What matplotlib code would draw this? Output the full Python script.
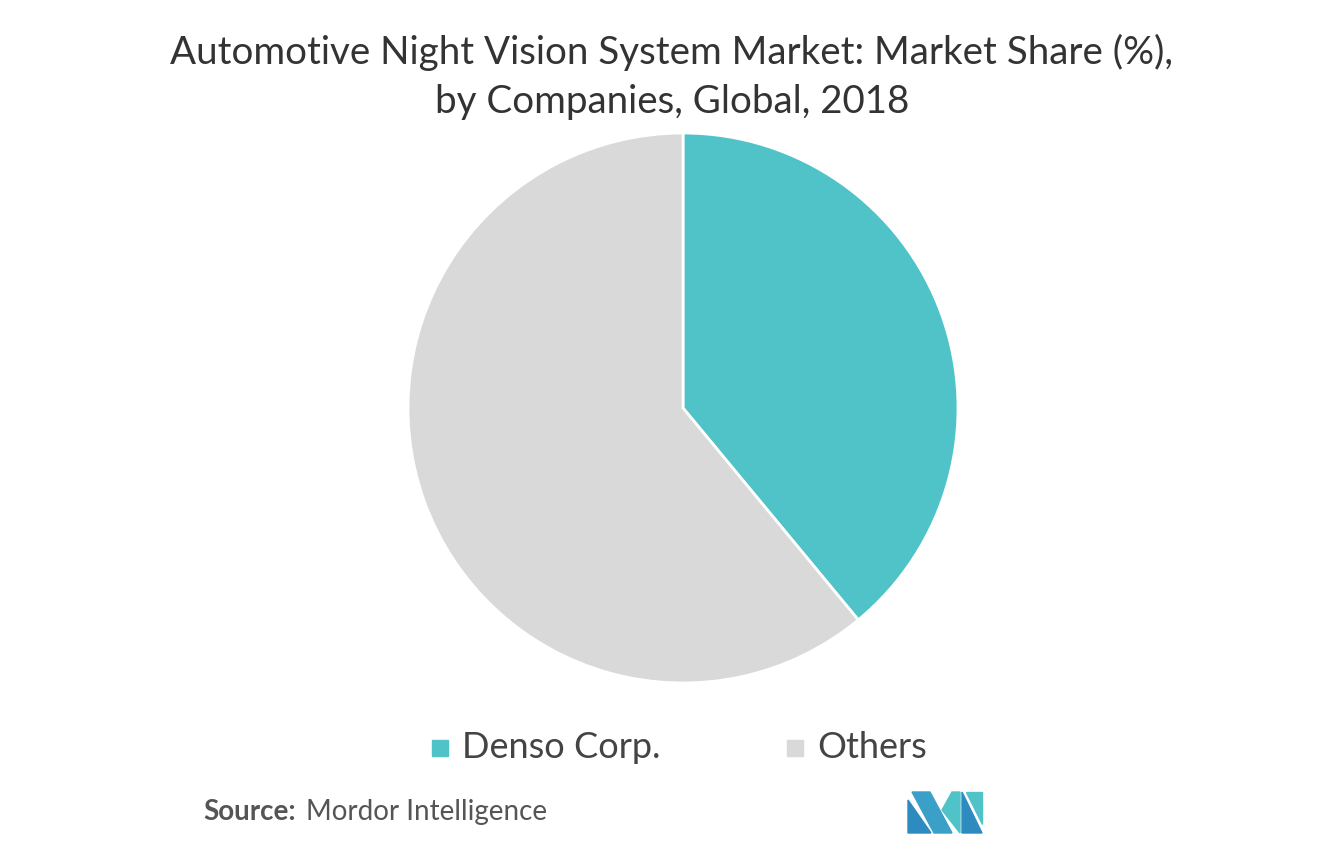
import matplotlib
matplotlib.use("Agg")
import matplotlib.pyplot as plt
from matplotlib.patches import Polygon, Rectangle

companies = ["Denso Corp.", "Others"]
shares = [39, 61]
colors = ["#50C3C8", "#D9D9D9"]

plt.rcParams['font.family'] = ['Lato', 'DejaVu Sans']

W, H = 1321, 848
fig = plt.figure(figsize=(W / 100, H / 100), dpi=100)
fig.patch.set_facecolor("white")

def fx(x):
    return x / W

def fy(y):
    return 1 - y / H

# pie
ax = fig.add_axes([fx(408), fy(683), 550 / W, 550 / H])
ax.pie(shares, colors=colors, startangle=90, counterclock=False,
       wedgeprops=dict(edgecolor="white", linewidth=2))
ax.set_xlim(-1, 1)
ax.set_ylim(-1, 1)
ax.set_aspect("equal")

fig.text(fx(672), fy(52), "Automotive Night Vision System Market: Market Share (%),",
         ha="center", va="center", fontsize=27.7, color="#333333")
fig.text(fx(672), fy(102), "by Companies, Global, 2018",
         ha="center", va="center", fontsize=27.7, color="#333333")

# legend
for x, name, c in [(440, companies[0], colors[0]), (795, companies[1], colors[1])]:
    fig.patches.append(Rectangle((fx(x - 8), fy(756)), 16 / W, 16 / H,
                                 transform=fig.transFigure, color=c))
    fig.text(fx(x + 22), fy(748), name, ha="left", va="center",
             fontsize=26, color="#444444")

# source
fig.text(fx(203), fy(812), "Source:", ha="left", va="center",
         fontsize=20, color="#555555", fontweight="bold")
fig.text(fx(306), fy(812), "Mordor Intelligence", ha="left", va="center",
         fontsize=20, color="#555555")

# logo
logo = [
    ([(908, 833), (908, 800), (931, 833)], "#2E8BC0"),
    ([(912, 792), (930, 792), (952, 833), (934, 833)], "#3AA0C8"),
    ([(942, 810), (952, 792), (960, 792), (960, 833)], "#50C3C8"),
    ([(962, 792), (982, 833), (962, 833)], "#2E8BC0"),
    ([(966, 792), (982, 792), (982, 824)], "#50C3C8"),
]
for pts, c in logo:
    fig.patches.append(Polygon([(fx(a), fy(b)) for a, b in pts], closed=True,
                               transform=fig.transFigure, color=c))

fig.savefig("out.png", dpi=100, facecolor="white")
